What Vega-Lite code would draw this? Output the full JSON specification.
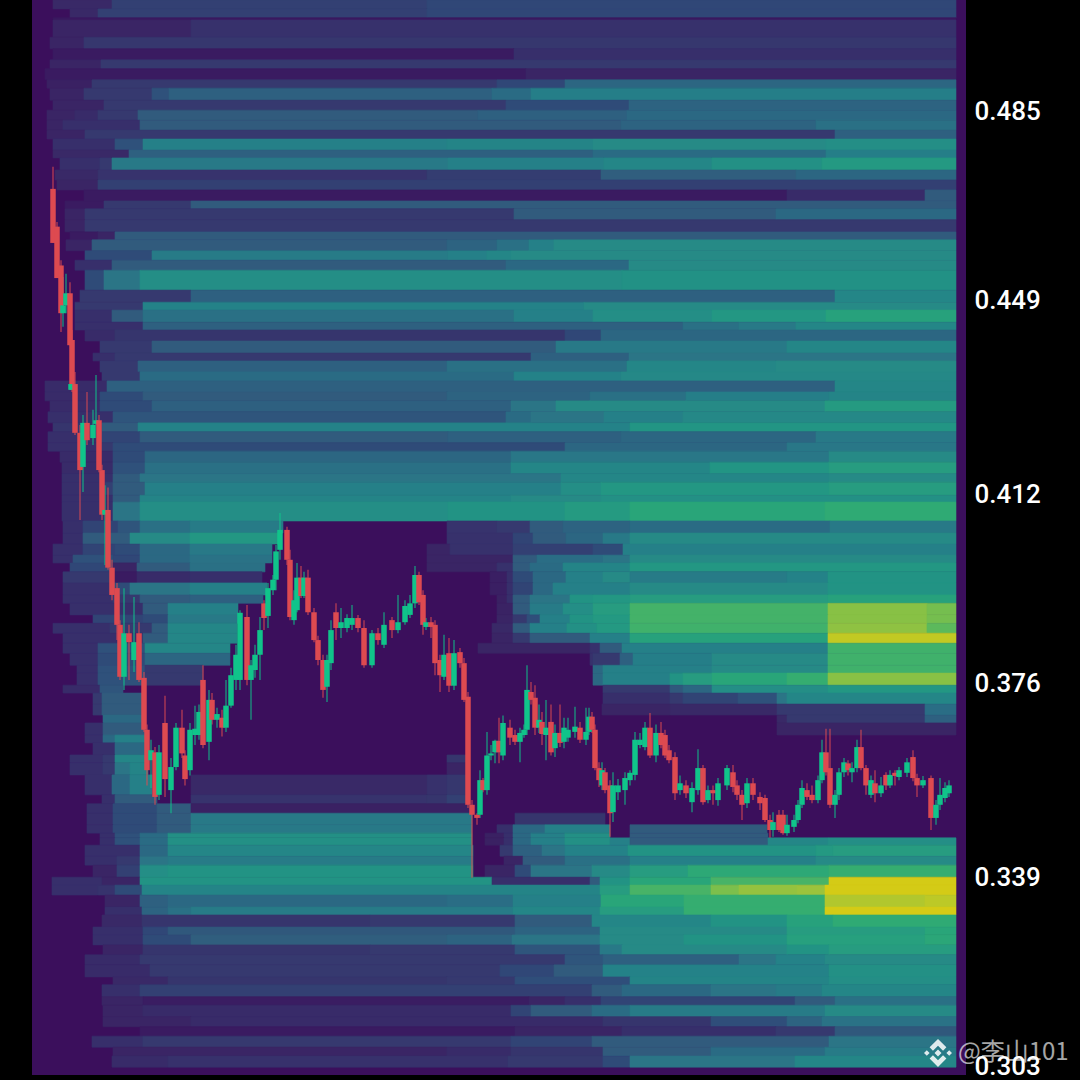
{"$schema":"https://vega.github.io/schema/vega-lite/v6.json","width":934,"height":1075,"autosize":"none","padding":{"left":32,"right":114,"top":0,"bottom":5},"background":"#000000","view":{"fill":"#3b0f5c","stroke":null},
"datasets":{
"bands":[{"b":1,"y":0.5063,"y2":0.5046},{"b":2,"y":0.5046,"y2":0.5029},{"b":3,"y":0.5029,"y2":0.5025},{"b":4,"y":0.5025,"y2":0.4992},{"b":5,"y":0.4992,"y2":0.4970},{"b":6,"y":0.4970,"y2":0.4949},{"b":7,"y":0.4949,"y2":0.4932},{"b":8,"y":0.4932,"y2":0.4911},{"b":9,"y":0.4911,"y2":0.4895},{"b":10,"y":0.4895,"y2":0.4872},{"b":11,"y":0.4872,"y2":0.4853},{"b":12,"y":0.4853,"y2":0.4834},{"b":13,"y":0.4834,"y2":0.4815},{"b":14,"y":0.4815,"y2":0.4798},{"b":15,"y":0.4798,"y2":0.4777},{"b":16,"y":0.4777,"y2":0.4762},{"b":17,"y":0.4762,"y2":0.4739},{"b":18,"y":0.4739,"y2":0.4720},{"b":19,"y":0.4720,"y2":0.4701},{"b":20,"y":0.4701,"y2":0.4680},{"b":21,"y":0.4680,"y2":0.4665},{"b":22,"y":0.4665,"y2":0.4644},{"b":23,"y":0.4644,"y2":0.4621},{"b":24,"y":0.4621,"y2":0.4606},{"b":25,"y":0.4606,"y2":0.4585},{"b":26,"y":0.4585,"y2":0.4567},{"b":27,"y":0.4567,"y2":0.4548},{"b":28,"y":0.4548,"y2":0.4510},{"b":29,"y":0.4510,"y2":0.4487},{"b":30,"y":0.4487,"y2":0.4472},{"b":31,"y":0.4472,"y2":0.4449},{"b":32,"y":0.4449,"y2":0.4434},{"b":33,"y":0.4434,"y2":0.4413},{"b":34,"y":0.4413,"y2":0.4390},{"b":35,"y":0.4390,"y2":0.4375},{"b":36,"y":0.4375,"y2":0.4354},{"b":37,"y":0.4354,"y2":0.4337},{"b":38,"y":0.4337,"y2":0.4316},{"b":39,"y":0.4316,"y2":0.4299},{"b":40,"y":0.4299,"y2":0.4278},{"b":41,"y":0.4278,"y2":0.4257},{"b":42,"y":0.4257,"y2":0.4240},{"b":43,"y":0.4240,"y2":0.4219},{"b":44,"y":0.4219,"y2":0.4203},{"b":45,"y":0.4203,"y2":0.4182},{"b":46,"y":0.4182,"y2":0.4160},{"b":47,"y":0.4160,"y2":0.4144},{"b":48,"y":0.4144,"y2":0.4119},{"b":49,"y":0.4119,"y2":0.4106},{"b":50,"y":0.4106,"y2":0.4070},{"b":51,"y":0.4070,"y2":0.4047},{"b":52,"y":0.4047,"y2":0.4026},{"b":53,"y":0.4026,"y2":0.4005},{"b":54,"y":0.4005,"y2":0.3990},{"b":55,"y":0.3990,"y2":0.3973},{"b":56,"y":0.3973,"y2":0.3952},{"b":57,"y":0.3952,"y2":0.3929},{"b":58,"y":0.3929,"y2":0.3913},{"b":59,"y":0.3913,"y2":0.3891},{"b":60,"y":0.3891,"y2":0.3875},{"b":61,"y":0.3875,"y2":0.3856},{"b":62,"y":0.3856,"y2":0.3837},{"b":63,"y":0.3837,"y2":0.3818},{"b":64,"y":0.3818,"y2":0.3795},{"b":65,"y":0.3795,"y2":0.3780},{"b":66,"y":0.3780,"y2":0.3757},{"b":67,"y":0.3757,"y2":0.3742},{"b":68,"y":0.3742,"y2":0.3721},{"b":69,"y":0.3721,"y2":0.3700},{"b":70,"y":0.3700,"y2":0.3685},{"b":71,"y":0.3685,"y2":0.3662},{"b":72,"y":0.3662,"y2":0.3647},{"b":73,"y":0.3647,"y2":0.3624},{"b":74,"y":0.3624,"y2":0.3609},{"b":75,"y":0.3609,"y2":0.3586},{"b":76,"y":0.3586,"y2":0.3548},{"b":77,"y":0.3548,"y2":0.3531},{"b":78,"y":0.3531,"y2":0.3513},{"b":104,"y":0.3513,"y2":0.3491},{"b":105,"y":0.3491,"y2":0.3475},{"b":80,"y":0.3475,"y2":0.3466},{"b":81,"y":0.3466,"y2":0.3452},{"b":82,"y":0.3452,"y2":0.3431},{"b":83,"y":0.3431,"y2":0.3414},{"b":84,"y":0.3414,"y2":0.3391},{"b":85,"y":0.3391,"y2":0.3376},{"b":86,"y":0.3376,"y2":0.3357},{"b":87,"y":0.3357,"y2":0.3334},{"b":88,"y":0.3334,"y2":0.3319},{"b":89,"y":0.3319,"y2":0.3296},{"b":90,"y":0.3296,"y2":0.3281},{"b":91,"y":0.3281,"y2":0.3262},{"b":92,"y":0.3262,"y2":0.3243},{"b":93,"y":0.3243,"y2":0.3224},{"b":94,"y":0.3224,"y2":0.3201},{"b":95,"y":0.3201,"y2":0.3186},{"b":96,"y":0.3186,"y2":0.3163},{"b":97,"y":0.3163,"y2":0.3147},{"b":98,"y":0.3147,"y2":0.3125},{"b":99,"y":0.3125,"y2":0.3106},{"b":100,"y":0.3106,"y2":0.3088},{"b":101,"y":0.3088,"y2":0.3067},{"b":102,"y":0.3067,"y2":0.3050},{"b":103,"y":0.3050,"y2":0.3029}],
"cells":[
{"b":1,"x":53,"e":112,"v":1.2},{"b":1,"x":112,"e":427,"v":2.2},{"b":1,"x":427,"e":956,"v":2.4},
{"b":2,"x":70,"e":98,"v":1.2},{"b":2,"x":98,"e":427,"v":2.2},{"b":2,"x":427,"e":956,"v":2.4},
{"b":3,"x":53,"e":956,"v":0.4},
{"b":4,"x":53,"e":191,"v":1},{"b":4,"x":191,"e":956,"v":1.6},
{"b":5,"x":50,"e":84,"v":1},{"b":5,"x":84,"e":956,"v":1.9},
{"b":6,"x":53,"e":514,"v":0.5},{"b":6,"x":514,"e":956,"v":1.5},
{"b":7,"x":50,"e":101,"v":1},{"b":7,"x":101,"e":956,"v":2},
{"b":8,"x":45,"e":526,"v":0.5},{"b":8,"x":526,"e":956,"v":1},
{"b":9,"x":47,"e":92,"v":0.8},{"b":9,"x":92,"e":497,"v":2},{"b":9,"x":497,"e":565,"v":2.4},{"b":9,"x":565,"e":956,"v":3.4},
{"b":10,"x":50,"e":84,"v":1},{"b":10,"x":84,"e":152,"v":2},{"b":10,"x":152,"e":169,"v":2.7},{"b":10,"x":169,"e":492,"v":3.2},{"b":10,"x":492,"e":531,"v":3.6},{"b":10,"x":531,"e":956,"v":4.4},
{"b":11,"x":53,"e":104,"v":1},{"b":11,"x":104,"e":506,"v":2},{"b":11,"x":506,"e":629,"v":2.5},{"b":11,"x":629,"e":956,"v":3.3},
{"b":12,"x":47,"e":75,"v":1},{"b":12,"x":75,"e":98,"v":1.3},{"b":12,"x":98,"e":138,"v":2},{"b":12,"x":138,"e":478,"v":3},{"b":12,"x":478,"e":627,"v":3.2},{"b":12,"x":627,"e":956,"v":3.5},
{"b":13,"x":47,"e":63,"v":1},{"b":13,"x":63,"e":140,"v":1.5},{"b":13,"x":140,"e":621,"v":3},{"b":13,"x":621,"e":816,"v":3.3},{"b":13,"x":816,"e":956,"v":3.8},
{"b":14,"x":47,"e":85,"v":1},{"b":14,"x":85,"e":835,"v":2},{"b":14,"x":835,"e":956,"v":3.2},
{"b":15,"x":53,"e":115,"v":1.5},{"b":15,"x":115,"e":143,"v":2.7},{"b":15,"x":143,"e":447,"v":4.5},{"b":15,"x":447,"e":593,"v":4.7},{"b":15,"x":593,"e":826,"v":5},{"b":15,"x":826,"e":956,"v":5.2},
{"b":16,"x":53,"e":129,"v":1.2},{"b":16,"x":129,"e":593,"v":3.2},{"b":16,"x":593,"e":826,"v":3.6},{"b":16,"x":826,"e":956,"v":4.4},
{"b":17,"x":60,"e":100,"v":1.5},{"b":17,"x":100,"e":112,"v":2},{"b":17,"x":112,"e":448,"v":4.2},{"b":17,"x":448,"e":604,"v":4.5},{"b":17,"x":604,"e":712,"v":4.8},{"b":17,"x":712,"e":822,"v":5.3},{"b":17,"x":822,"e":956,"v":5.8},
{"b":18,"x":55,"e":98,"v":1.2},{"b":18,"x":98,"e":427,"v":1.7},{"b":18,"x":427,"e":601,"v":2.1},{"b":18,"x":601,"e":796,"v":3.1},{"b":18,"x":796,"e":956,"v":3.4},
{"b":19,"x":57,"e":98,"v":1},{"b":19,"x":98,"e":956,"v":2.2},
{"b":20,"x":84,"e":787,"v":0.5},{"b":20,"x":787,"e":925,"v":1.3},{"b":20,"x":925,"e":956,"v":3},
{"b":21,"x":65,"e":104,"v":0.5},{"b":21,"x":104,"e":191,"v":2},{"b":21,"x":191,"e":956,"v":3},
{"b":22,"x":65,"e":85,"v":1},{"b":22,"x":85,"e":514,"v":2},{"b":22,"x":514,"e":776,"v":3},{"b":22,"x":776,"e":956,"v":3.5},
{"b":23,"x":65,"e":85,"v":1},{"b":23,"x":85,"e":956,"v":2},
{"b":24,"x":70,"e":98,"v":0.5},{"b":24,"x":98,"e":115,"v":1},{"b":24,"x":115,"e":956,"v":3},
{"b":25,"x":66,"e":92,"v":1},{"b":25,"x":92,"e":447,"v":3},{"b":25,"x":447,"e":497,"v":3.3},{"b":25,"x":497,"e":529,"v":3.8},{"b":25,"x":529,"e":554,"v":4.5},{"b":25,"x":554,"e":956,"v":5},
{"b":26,"x":85,"e":152,"v":2.5},{"b":26,"x":152,"e":448,"v":4.3},{"b":26,"x":448,"e":487,"v":4.5},{"b":26,"x":487,"e":511,"v":4.8},{"b":26,"x":511,"e":956,"v":5},
{"b":27,"x":75,"e":112,"v":1.5},{"b":27,"x":112,"e":506,"v":3},{"b":27,"x":506,"e":629,"v":3.5},{"b":27,"x":629,"e":956,"v":5},
{"b":28,"x":85,"e":104,"v":2.5},{"b":28,"x":104,"e":140,"v":4},{"b":28,"x":140,"e":622,"v":5.2},{"b":28,"x":622,"e":956,"v":5.4},
{"b":29,"x":80,"e":191,"v":2},{"b":29,"x":191,"e":835,"v":3.2},{"b":29,"x":835,"e":956,"v":4.8},
{"b":30,"x":75,"e":143,"v":2},{"b":30,"x":143,"e":584,"v":4.6},{"b":30,"x":584,"e":956,"v":5},
{"b":31,"x":75,"e":112,"v":1.5},{"b":31,"x":112,"e":143,"v":3},{"b":31,"x":143,"e":514,"v":3.8},{"b":31,"x":514,"e":593,"v":4.5},{"b":31,"x":593,"e":712,"v":5.2},{"b":31,"x":712,"e":826,"v":5.7},{"b":31,"x":826,"e":956,"v":6.3},
{"b":32,"x":75,"e":143,"v":1.5},{"b":32,"x":143,"e":683,"v":3.2},{"b":32,"x":683,"e":739,"v":3.8},{"b":32,"x":739,"e":796,"v":4.2},{"b":32,"x":796,"e":956,"v":4.8},
{"b":33,"x":85,"e":115,"v":1.3},{"b":33,"x":115,"e":565,"v":1.8},{"b":33,"x":565,"e":601,"v":2.4},{"b":33,"x":601,"e":956,"v":3.4},
{"b":34,"x":100,"e":152,"v":2},{"b":34,"x":152,"e":556,"v":3},{"b":34,"x":556,"e":787,"v":4.2},{"b":34,"x":787,"e":956,"v":4.8},
{"b":35,"x":93,"e":115,"v":1.5},{"b":35,"x":115,"e":531,"v":2},{"b":35,"x":531,"e":629,"v":3.2},{"b":35,"x":629,"e":956,"v":4},
{"b":36,"x":100,"e":138,"v":2},{"b":36,"x":138,"e":447,"v":3.2},{"b":36,"x":447,"e":627,"v":3.8},{"b":36,"x":627,"e":776,"v":4.8},{"b":36,"x":776,"e":956,"v":5},
{"b":37,"x":102,"e":140,"v":2},{"b":37,"x":140,"e":514,"v":3.6},{"b":37,"x":514,"e":621,"v":4.6},{"b":37,"x":621,"e":956,"v":4.9},
{"b":38,"x":45,"e":107,"v":1.3},{"b":38,"x":107,"e":835,"v":3.2},{"b":38,"x":835,"e":956,"v":4.8},
{"b":39,"x":45,"e":100,"v":1.3},{"b":39,"x":100,"e":143,"v":2.5},{"b":39,"x":143,"e":447,"v":3},{"b":39,"x":447,"e":590,"v":3.3},{"b":39,"x":590,"e":686,"v":3.8},{"b":39,"x":686,"e":829,"v":4.4},{"b":39,"x":829,"e":956,"v":4.7},
{"b":40,"x":50,"e":100,"v":1.3},{"b":40,"x":100,"e":152,"v":2.5},{"b":40,"x":152,"e":511,"v":3.2},{"b":40,"x":511,"e":556,"v":4},{"b":40,"x":556,"e":825,"v":5},{"b":40,"x":825,"e":956,"v":5.9},
{"b":41,"x":48,"e":113,"v":1.5},{"b":41,"x":113,"e":506,"v":2.8},{"b":41,"x":506,"e":531,"v":3.6},{"b":41,"x":531,"e":604,"v":4},{"b":41,"x":604,"e":683,"v":4.5},{"b":41,"x":683,"e":956,"v":4.9},
{"b":42,"x":53,"e":102,"v":1.8},{"b":42,"x":102,"e":138,"v":3},{"b":42,"x":138,"e":630,"v":4.6},{"b":42,"x":630,"e":956,"v":5.6},
{"b":43,"x":48,"e":100,"v":1.5},{"b":43,"x":100,"e":140,"v":2.3},{"b":43,"x":140,"e":448,"v":3},{"b":43,"x":448,"e":621,"v":3.2},{"b":43,"x":621,"e":816,"v":3.4},{"b":43,"x":816,"e":956,"v":4.2},
{"b":44,"x":48,"e":100,"v":1.5},{"b":44,"x":100,"e":113,"v":2},{"b":44,"x":113,"e":565,"v":2.5},{"b":44,"x":565,"e":787,"v":3.4},{"b":44,"x":787,"e":956,"v":4.1},
{"b":45,"x":60,"e":113,"v":1.3},{"b":45,"x":113,"e":145,"v":2.5},{"b":45,"x":145,"e":511,"v":3.4},{"b":45,"x":511,"e":829,"v":4.1},{"b":45,"x":829,"e":956,"v":5},
{"b":46,"x":62,"e":113,"v":1.3},{"b":46,"x":113,"e":145,"v":2.7},{"b":46,"x":145,"e":511,"v":3.8},{"b":46,"x":511,"e":710,"v":4.8},{"b":46,"x":710,"e":829,"v":5.6},{"b":46,"x":829,"e":956,"v":6},
{"b":47,"x":62,"e":113,"v":1.5},{"b":47,"x":113,"e":140,"v":3},{"b":47,"x":140,"e":561,"v":4},{"b":47,"x":561,"e":829,"v":4.8},{"b":47,"x":829,"e":956,"v":5},
{"b":48,"x":62,"e":105,"v":1.5},{"b":48,"x":105,"e":113,"v":2.2},{"b":48,"x":113,"e":145,"v":3},{"b":48,"x":145,"e":561,"v":4.5},{"b":48,"x":561,"e":601,"v":5.2},{"b":48,"x":601,"e":829,"v":5.7},{"b":48,"x":829,"e":956,"v":6},
{"b":49,"x":62,"e":113,"v":1.5},{"b":49,"x":113,"e":140,"v":3},{"b":49,"x":140,"e":511,"v":4.7},{"b":49,"x":511,"e":601,"v":5},{"b":49,"x":601,"e":956,"v":5.3},
{"b":50,"x":62,"e":113,"v":1.5},{"b":50,"x":113,"e":140,"v":4},{"b":50,"x":140,"e":448,"v":5.2},{"b":50,"x":448,"e":565,"v":5.5},{"b":50,"x":565,"e":630,"v":5.9},{"b":50,"x":630,"e":825,"v":6.5},{"b":50,"x":825,"e":956,"v":6.8},
{"b":51,"x":63,"e":83,"v":1.5},{"b":51,"x":83,"e":118,"v":2.3},{"b":51,"x":118,"e":140,"v":2.8},{"b":51,"x":140,"e":190,"v":3.8},{"b":51,"x":190,"e":283,"v":4.3},{"b":51,"x":447,"e":497,"v":1.7},{"b":51,"x":497,"e":530,"v":2},{"b":51,"x":530,"e":563,"v":3},{"b":51,"x":563,"e":630,"v":3.3},{"b":51,"x":630,"e":830,"v":3.6},{"b":51,"x":830,"e":956,"v":4.2},
{"b":52,"x":63,"e":83,"v":1.5},{"b":52,"x":83,"e":130,"v":3},{"b":52,"x":130,"e":190,"v":5},{"b":52,"x":190,"e":278,"v":5.7},{"b":52,"x":447,"e":513,"v":1.6},{"b":52,"x":513,"e":533,"v":2.3},{"b":52,"x":533,"e":566,"v":3},{"b":52,"x":566,"e":603,"v":3.4},{"b":52,"x":603,"e":630,"v":4.2},{"b":52,"x":630,"e":956,"v":5},
{"b":53,"x":53,"e":83,"v":1.5},{"b":53,"x":83,"e":115,"v":2.3},{"b":53,"x":115,"e":140,"v":2.5},{"b":53,"x":140,"e":190,"v":3.5},{"b":53,"x":190,"e":272,"v":4.2},{"b":53,"x":427,"e":450,"v":1},{"b":53,"x":450,"e":513,"v":1.6},{"b":53,"x":513,"e":593,"v":2.2},{"b":53,"x":593,"e":623,"v":2.5},{"b":53,"x":623,"e":956,"v":4.5},
{"b":54,"x":53,"e":73,"v":1.5},{"b":54,"x":73,"e":113,"v":2.7},{"b":54,"x":113,"e":140,"v":2.4},{"b":54,"x":140,"e":190,"v":3.5},{"b":54,"x":190,"e":272,"v":3.9},{"b":54,"x":427,"e":513,"v":1},{"b":54,"x":513,"e":537,"v":3},{"b":54,"x":537,"e":603,"v":3.7},{"b":54,"x":603,"e":630,"v":4},{"b":54,"x":630,"e":956,"v":5},
{"b":55,"x":70,"e":113,"v":2.4},{"b":55,"x":113,"e":137,"v":1},{"b":55,"x":137,"e":190,"v":3},{"b":55,"x":190,"e":265,"v":3.8},{"b":55,"x":427,"e":497,"v":1},{"b":55,"x":497,"e":513,"v":1.6},{"b":55,"x":513,"e":530,"v":3},{"b":55,"x":530,"e":563,"v":3.6},{"b":55,"x":563,"e":630,"v":4.7},{"b":55,"x":630,"e":956,"v":5.7},
{"b":56,"x":63,"e":113,"v":2},{"b":56,"x":113,"e":137,"v":0.5},{"b":56,"x":137,"e":190,"v":1.3},{"b":56,"x":190,"e":262,"v":1.5},{"b":56,"x":490,"e":507,"v":0.7},{"b":56,"x":507,"e":513,"v":1.5},{"b":56,"x":513,"e":533,"v":2.5},{"b":56,"x":533,"e":566,"v":3.5},{"b":56,"x":566,"e":603,"v":4.5},{"b":56,"x":603,"e":630,"v":5},{"b":56,"x":630,"e":787,"v":4.3},{"b":56,"x":787,"e":828,"v":4.6},{"b":56,"x":828,"e":956,"v":5.5},
{"b":57,"x":63,"e":113,"v":1.5},{"b":57,"x":113,"e":130,"v":2.5},{"b":57,"x":130,"e":190,"v":4},{"b":57,"x":190,"e":267,"v":4.5},{"b":57,"x":490,"e":507,"v":0.7},{"b":57,"x":507,"e":513,"v":1.5},{"b":57,"x":513,"e":533,"v":2.3},{"b":57,"x":533,"e":553,"v":3.5},{"b":57,"x":553,"e":630,"v":4.5},{"b":57,"x":630,"e":828,"v":5},{"b":57,"x":828,"e":956,"v":5.5},
{"b":58,"x":63,"e":113,"v":1.5},{"b":58,"x":113,"e":140,"v":2},{"b":58,"x":140,"e":190,"v":3},{"b":58,"x":190,"e":263,"v":3.2},{"b":58,"x":497,"e":507,"v":0.8},{"b":58,"x":507,"e":513,"v":1.5},{"b":58,"x":513,"e":530,"v":3},{"b":58,"x":530,"e":570,"v":4},{"b":58,"x":570,"e":593,"v":5.5},{"b":58,"x":593,"e":630,"v":5.7},{"b":58,"x":630,"e":828,"v":6},{"b":58,"x":828,"e":956,"v":6.3},
{"b":59,"x":70,"e":143,"v":1.5},{"b":59,"x":143,"e":168,"v":3},{"b":59,"x":168,"e":238,"v":4.5},{"b":59,"x":497,"e":513,"v":0.9},{"b":59,"x":513,"e":530,"v":3},{"b":59,"x":530,"e":563,"v":4.3},{"b":59,"x":563,"e":593,"v":5.2},{"b":59,"x":593,"e":630,"v":6},{"b":59,"x":630,"e":828,"v":7.4},{"b":59,"x":828,"e":927,"v":8.7},{"b":59,"x":927,"e":956,"v":8.4},
{"b":60,"x":93,"e":143,"v":2.3},{"b":60,"x":143,"e":168,"v":2.5},{"b":60,"x":168,"e":238,"v":4.2},{"b":60,"x":497,"e":513,"v":1},{"b":60,"x":513,"e":527,"v":2},{"b":60,"x":527,"e":540,"v":2.6},{"b":60,"x":540,"e":570,"v":4.5},{"b":60,"x":570,"e":593,"v":5.5},{"b":60,"x":593,"e":630,"v":5.8},{"b":60,"x":630,"e":828,"v":7.4},{"b":60,"x":828,"e":927,"v":8.7},{"b":60,"x":927,"e":956,"v":8.4},
{"b":61,"x":53,"e":110,"v":1.5},{"b":61,"x":110,"e":152,"v":2},{"b":61,"x":152,"e":168,"v":3},{"b":61,"x":168,"e":237,"v":4.8},{"b":61,"x":492,"e":513,"v":1.2},{"b":61,"x":513,"e":530,"v":3},{"b":61,"x":530,"e":567,"v":4.5},{"b":61,"x":567,"e":597,"v":5.3},{"b":61,"x":597,"e":630,"v":5.8},{"b":61,"x":630,"e":828,"v":7.3},{"b":61,"x":828,"e":927,"v":8.8},{"b":61,"x":927,"e":956,"v":8},
{"b":62,"x":63,"e":143,"v":1.5},{"b":62,"x":143,"e":168,"v":3},{"b":62,"x":168,"e":237,"v":4.8},{"b":62,"x":492,"e":513,"v":1},{"b":62,"x":513,"e":530,"v":2},{"b":62,"x":530,"e":590,"v":3},{"b":62,"x":590,"e":630,"v":4.5},{"b":62,"x":630,"e":828,"v":6.3},{"b":62,"x":828,"e":956,"v":9.7},
{"b":63,"x":63,"e":98,"v":1.5},{"b":63,"x":98,"e":145,"v":2.7},{"b":63,"x":145,"e":230,"v":4.8},{"b":63,"x":478,"e":590,"v":1},{"b":63,"x":590,"e":600,"v":1.6},{"b":63,"x":600,"e":622,"v":3},{"b":63,"x":622,"e":828,"v":4.5},{"b":63,"x":828,"e":956,"v":7.3},
{"b":64,"x":70,"e":98,"v":1.5},{"b":64,"x":98,"e":145,"v":2.5},{"b":64,"x":145,"e":230,"v":3.4},{"b":64,"x":590,"e":593,"v":1.6},{"b":64,"x":593,"e":620,"v":2},{"b":64,"x":620,"e":633,"v":3.2},{"b":64,"x":633,"e":712,"v":4.4},{"b":64,"x":712,"e":828,"v":5},{"b":64,"x":828,"e":956,"v":7.3},
{"b":65,"x":77,"e":98,"v":1.5},{"b":65,"x":98,"e":145,"v":2.7},{"b":65,"x":145,"e":203,"v":2},{"b":65,"x":593,"e":603,"v":3.5},{"b":65,"x":603,"e":712,"v":4.5},{"b":65,"x":712,"e":828,"v":5},{"b":65,"x":828,"e":956,"v":7.3},
{"b":66,"x":77,"e":98,"v":1.5},{"b":66,"x":98,"e":145,"v":2.7},{"b":66,"x":145,"e":203,"v":2},{"b":66,"x":593,"e":603,"v":3.5},{"b":66,"x":603,"e":670,"v":4.5},{"b":66,"x":670,"e":683,"v":5.5},{"b":66,"x":683,"e":712,"v":6},{"b":66,"x":712,"e":787,"v":6.5},{"b":66,"x":787,"e":828,"v":7},{"b":66,"x":828,"e":956,"v":8.7},
{"b":67,"x":63,"e":100,"v":1.3},{"b":67,"x":100,"e":123,"v":2.8},{"b":67,"x":603,"e":670,"v":2},{"b":67,"x":670,"e":683,"v":2.9},{"b":67,"x":683,"e":712,"v":3.4},{"b":67,"x":712,"e":828,"v":5.2},{"b":67,"x":828,"e":956,"v":5.7},
{"b":68,"x":93,"e":102,"v":2},{"b":68,"x":102,"e":143,"v":3},{"b":68,"x":603,"e":670,"v":1.5},{"b":68,"x":670,"e":683,"v":2},{"b":68,"x":683,"e":738,"v":2.3},{"b":68,"x":738,"e":777,"v":2.7},{"b":68,"x":777,"e":787,"v":4},{"b":68,"x":787,"e":956,"v":4.8},
{"b":69,"x":93,"e":102,"v":2},{"b":69,"x":102,"e":143,"v":3},{"b":69,"x":602,"e":670,"v":1},{"b":69,"x":670,"e":777,"v":1.2},{"b":69,"x":777,"e":925,"v":2},{"b":69,"x":925,"e":956,"v":3.7},
{"b":70,"x":103,"e":143,"v":3.5},{"b":70,"x":777,"e":787,"v":1.2},{"b":70,"x":787,"e":925,"v":2},{"b":70,"x":925,"e":956,"v":3.2},
{"b":71,"x":85,"e":103,"v":1.5},{"b":71,"x":103,"e":145,"v":3},{"b":71,"x":777,"e":956,"v":1},
{"b":72,"x":85,"e":103,"v":1.5},{"b":72,"x":103,"e":115,"v":3.5},{"b":72,"x":115,"e":145,"v":4.5},
{"b":73,"x":93,"e":115,"v":1.5},{"b":73,"x":115,"e":147,"v":3.5},
{"b":74,"x":70,"e":103,"v":1.5},{"b":74,"x":103,"e":115,"v":2},{"b":74,"x":115,"e":147,"v":4.8},{"b":74,"x":447,"e":468,"v":1.8},
{"b":75,"x":70,"e":103,"v":1.5},{"b":75,"x":103,"e":115,"v":2},{"b":75,"x":115,"e":130,"v":4},{"b":75,"x":130,"e":148,"v":4.7},{"b":75,"x":447,"e":468,"v":1},
{"b":76,"x":85,"e":112,"v":1.5},{"b":76,"x":112,"e":130,"v":3.5},{"b":76,"x":130,"e":152,"v":4.5},{"b":76,"x":191,"e":427,"v":1.2},{"b":76,"x":427,"e":447,"v":1.6},{"b":76,"x":447,"e":468,"v":1.9},
{"b":77,"x":102,"e":115,"v":1.5},{"b":77,"x":115,"e":157,"v":3},{"b":77,"x":191,"e":427,"v":1.7},{"b":77,"x":427,"e":447,"v":1.8},{"b":77,"x":447,"e":468,"v":2.2},
{"b":78,"x":87,"e":113,"v":1.5},{"b":78,"x":113,"e":157,"v":2.5},{"b":78,"x":157,"e":191,"v":3},{"b":78,"x":191,"e":470,"v":0.8},
{"b":104,"x":87,"e":113,"v":1.5},{"b":104,"x":113,"e":157,"v":2.5},{"b":104,"x":157,"e":191,"v":3},{"b":104,"x":191,"e":472,"v":4.2},{"b":104,"x":515,"e":605,"v":1.8},
{"b":105,"x":87,"e":113,"v":1.5},{"b":105,"x":113,"e":157,"v":2.5},{"b":105,"x":157,"e":191,"v":3},{"b":105,"x":191,"e":472,"v":4.2},{"b":105,"x":497,"e":513,"v":1.5},{"b":105,"x":513,"e":545,"v":3.5},{"b":105,"x":545,"e":610,"v":4.5},{"b":105,"x":630,"e":767,"v":3},
{"b":80,"x":100,"e":115,"v":1.5},{"b":80,"x":115,"e":140,"v":2.7},{"b":80,"x":140,"e":168,"v":3.6},{"b":80,"x":168,"e":472,"v":5.3},{"b":80,"x":485,"e":504,"v":0.8},{"b":80,"x":504,"e":513,"v":1.5},{"b":80,"x":513,"e":531,"v":3.5},{"b":80,"x":531,"e":565,"v":4.5},{"b":80,"x":565,"e":610,"v":5.3},{"b":80,"x":630,"e":768,"v":3},
{"b":81,"x":100,"e":115,"v":1.5},{"b":81,"x":115,"e":140,"v":2.7},{"b":81,"x":140,"e":168,"v":3.6},{"b":81,"x":168,"e":472,"v":5.3},{"b":81,"x":485,"e":504,"v":0.8},{"b":81,"x":504,"e":513,"v":1.5},{"b":81,"x":513,"e":531,"v":3.5},{"b":81,"x":531,"e":565,"v":4.5},{"b":81,"x":565,"e":610,"v":5.3},{"b":81,"x":610,"e":630,"v":4.5},{"b":81,"x":630,"e":768,"v":3},{"b":81,"x":768,"e":828,"v":4.8},{"b":81,"x":828,"e":956,"v":5.2},
{"b":82,"x":85,"e":140,"v":1.5},{"b":82,"x":140,"e":168,"v":3.5},{"b":82,"x":168,"e":473,"v":4.8},{"b":82,"x":500,"e":513,"v":2},{"b":82,"x":513,"e":542,"v":3.2},{"b":82,"x":542,"e":565,"v":4},{"b":82,"x":565,"e":628,"v":4.6},{"b":82,"x":628,"e":816,"v":5.5},{"b":82,"x":816,"e":833,"v":5.8},{"b":82,"x":833,"e":956,"v":6},
{"b":83,"x":85,"e":117,"v":1.5},{"b":83,"x":117,"e":140,"v":2},{"b":83,"x":140,"e":168,"v":4},{"b":83,"x":168,"e":473,"v":4.3},{"b":83,"x":504,"e":523,"v":1},{"b":83,"x":523,"e":565,"v":3},{"b":83,"x":565,"e":630,"v":3.8},{"b":83,"x":630,"e":816,"v":4.5},{"b":83,"x":816,"e":956,"v":5},
{"b":84,"x":93,"e":117,"v":1},{"b":84,"x":117,"e":140,"v":2.2},{"b":84,"x":140,"e":168,"v":5.2},{"b":84,"x":168,"e":473,"v":5.5},{"b":84,"x":485,"e":515,"v":1},{"b":84,"x":515,"e":531,"v":2.5},{"b":84,"x":531,"e":592,"v":4},{"b":84,"x":592,"e":630,"v":5},{"b":84,"x":630,"e":688,"v":6},{"b":84,"x":688,"e":829,"v":6.7},{"b":84,"x":829,"e":956,"v":7},
{"b":85,"x":52,"e":102,"v":1.5},{"b":85,"x":102,"e":140,"v":1},{"b":85,"x":140,"e":492,"v":5.5},{"b":85,"x":492,"e":590,"v":1.5},{"b":85,"x":590,"e":600,"v":3},{"b":85,"x":600,"e":630,"v":5.5},{"b":85,"x":630,"e":711,"v":6.5},{"b":85,"x":711,"e":829,"v":7.5},{"b":85,"x":829,"e":956,"v":10},
{"b":86,"x":52,"e":98,"v":1.5},{"b":86,"x":98,"e":115,"v":1.7},{"b":86,"x":115,"e":142,"v":2.5},{"b":86,"x":142,"e":600,"v":4.7},{"b":86,"x":600,"e":630,"v":6},{"b":86,"x":630,"e":711,"v":7.5},{"b":86,"x":711,"e":739,"v":8.5},{"b":86,"x":739,"e":797,"v":8.9},{"b":86,"x":797,"e":825,"v":9},{"b":86,"x":825,"e":956,"v":10},
{"b":87,"x":105,"e":140,"v":1},{"b":87,"x":140,"e":168,"v":3.2},{"b":87,"x":168,"e":447,"v":3.5},{"b":87,"x":447,"e":513,"v":3.7},{"b":87,"x":513,"e":601,"v":4.5},{"b":87,"x":601,"e":684,"v":6.5},{"b":87,"x":684,"e":825,"v":7},{"b":87,"x":825,"e":925,"v":9.4},{"b":87,"x":925,"e":956,"v":9.6},
{"b":88,"x":105,"e":142,"v":1.5},{"b":88,"x":142,"e":168,"v":3.3},{"b":88,"x":168,"e":191,"v":3.8},{"b":88,"x":191,"e":513,"v":4.3},{"b":88,"x":513,"e":600,"v":4.8},{"b":88,"x":600,"e":684,"v":6},{"b":88,"x":684,"e":825,"v":7},{"b":88,"x":825,"e":956,"v":10},
{"b":89,"x":102,"e":142,"v":1.2},{"b":89,"x":142,"e":370,"v":1.8},{"b":89,"x":370,"e":515,"v":2},{"b":89,"x":515,"e":592,"v":3},{"b":89,"x":592,"e":711,"v":4.8},{"b":89,"x":711,"e":787,"v":5.5},{"b":89,"x":787,"e":833,"v":6.3},{"b":89,"x":833,"e":956,"v":6.8},
{"b":90,"x":93,"e":143,"v":1.5},{"b":90,"x":143,"e":168,"v":2.4},{"b":90,"x":168,"e":515,"v":2.9},{"b":90,"x":515,"e":600,"v":3.3},{"b":90,"x":600,"e":787,"v":5},{"b":90,"x":787,"e":925,"v":6},{"b":90,"x":925,"e":956,"v":6.5},
{"b":91,"x":93,"e":143,"v":1.5},{"b":91,"x":143,"e":191,"v":2.5},{"b":91,"x":191,"e":447,"v":3.1},{"b":91,"x":447,"e":512,"v":3.3},{"b":91,"x":512,"e":600,"v":4},{"b":91,"x":600,"e":684,"v":5},{"b":91,"x":684,"e":787,"v":5.5},{"b":91,"x":787,"e":925,"v":6.2},{"b":91,"x":925,"e":956,"v":6.6},
{"b":92,"x":103,"e":143,"v":1},{"b":92,"x":143,"e":370,"v":1.8},{"b":92,"x":370,"e":515,"v":2},{"b":92,"x":515,"e":600,"v":2.8},{"b":92,"x":600,"e":622,"v":4.2},{"b":92,"x":622,"e":787,"v":5},{"b":92,"x":787,"e":829,"v":5.5},{"b":92,"x":829,"e":956,"v":6},
{"b":93,"x":85,"e":140,"v":1.3},{"b":93,"x":140,"e":565,"v":2},{"b":93,"x":565,"e":603,"v":2.8},{"b":93,"x":603,"e":739,"v":3.2},{"b":93,"x":739,"e":776,"v":4},{"b":93,"x":776,"e":825,"v":4.6},{"b":93,"x":825,"e":956,"v":5},
{"b":94,"x":85,"e":150,"v":1.3},{"b":94,"x":150,"e":500,"v":2},{"b":94,"x":500,"e":554,"v":2.4},{"b":94,"x":554,"e":603,"v":3},{"b":94,"x":603,"e":829,"v":4.6},{"b":94,"x":829,"e":956,"v":5.3},
{"b":95,"x":113,"e":168,"v":1.2},{"b":95,"x":168,"e":447,"v":1.8},{"b":95,"x":447,"e":515,"v":2},{"b":95,"x":515,"e":630,"v":2.6},{"b":95,"x":630,"e":829,"v":4.7},{"b":95,"x":829,"e":956,"v":5.2},
{"b":96,"x":102,"e":140,"v":1.5},{"b":96,"x":140,"e":592,"v":2.2},{"b":96,"x":592,"e":622,"v":3},{"b":96,"x":622,"e":711,"v":3.5},{"b":96,"x":711,"e":776,"v":4},{"b":96,"x":776,"e":822,"v":4.3},{"b":96,"x":822,"e":956,"v":4.8},
{"b":97,"x":102,"e":143,"v":1},{"b":97,"x":143,"e":529,"v":0.6},{"b":97,"x":529,"e":565,"v":1},{"b":97,"x":565,"e":601,"v":1.5},{"b":97,"x":601,"e":795,"v":2.3},{"b":97,"x":795,"e":835,"v":3},{"b":97,"x":835,"e":956,"v":3.8},
{"b":98,"x":103,"e":143,"v":1},{"b":98,"x":143,"e":511,"v":1.3},{"b":98,"x":511,"e":531,"v":2.3},{"b":98,"x":531,"e":592,"v":3},{"b":98,"x":592,"e":630,"v":3.6},{"b":98,"x":630,"e":825,"v":4.3},{"b":98,"x":825,"e":956,"v":5},
{"b":99,"x":103,"e":191,"v":1},{"b":99,"x":191,"e":603,"v":1.3},{"b":99,"x":603,"e":711,"v":1.8},{"b":99,"x":711,"e":787,"v":2.6},{"b":99,"x":787,"e":822,"v":3.3},{"b":99,"x":822,"e":956,"v":3.9},
{"b":100,"x":140,"e":515,"v":0.5},{"b":100,"x":515,"e":622,"v":1},{"b":100,"x":622,"e":776,"v":1.5},{"b":100,"x":776,"e":835,"v":2},{"b":100,"x":835,"e":956,"v":2.9},
{"b":101,"x":92,"e":143,"v":1.5},{"b":101,"x":143,"e":511,"v":2},{"b":101,"x":511,"e":592,"v":2.3},{"b":101,"x":592,"e":829,"v":3},{"b":101,"x":829,"e":956,"v":4},
{"b":102,"x":113,"e":447,"v":1},{"b":102,"x":447,"e":511,"v":1.3},{"b":102,"x":511,"e":603,"v":1.8},{"b":102,"x":603,"e":711,"v":3},{"b":102,"x":711,"e":825,"v":3.6},{"b":102,"x":825,"e":956,"v":4.3},
{"b":103,"x":112,"e":168,"v":1.3},{"b":103,"x":168,"e":508,"v":1.6},{"b":103,"x":508,"e":603,"v":2},{"b":103,"x":603,"e":630,"v":2.5},{"b":103,"x":630,"e":795,"v":4},{"b":103,"x":795,"e":956,"v":4.8}
],
"candles":[
{"t":53,"o":0.4703,"c":0.4600,"h":0.4745,"l":0.4600,"d":"r"},{"t":57,"o":0.4631,"c":0.4533,"h":0.4640,"l":0.4533,"d":"r"},{"t":61,"o":0.4557,"c":0.4466,"h":0.4567,"l":0.4430,"d":"r"},{"t":63,"o":0.4466,"c":0.4481,"h":0.4535,"l":0.4440,"d":"g"},{"t":66,"o":0.4481,"c":0.4504,"h":0.4541,"l":0.4466,"d":"g"},{"t":70,"o":0.4504,"c":0.4405,"h":0.4525,"l":0.4405,"d":"r"},{"t":72,"o":0.4415,"c":0.4320,"h":0.4434,"l":0.4316,"d":"r"},{"t":71,"o":0.4320,"c":0.4331,"h":0.4434,"l":0.4320,"d":"g"},{"t":75,"o":0.4331,"c":0.4238,"h":0.4354,"l":0.4234,"d":"r"},{"t":80,"o":0.4238,"c":0.4167,"h":0.4253,"l":0.4072,"d":"r"},{"t":83,"o":0.4173,"c":0.4257,"h":0.4272,"l":0.4125,"d":"g"},{"t":87,"o":0.4257,"c":0.4224,"h":0.4316,"l":0.4215,"d":"r"},{"t":93,"o":0.4228,"c":0.4253,"h":0.4282,"l":0.4215,"d":"g"},{"t":96,"o":0.4255,"c":0.4262,"h":0.4348,"l":0.4253,"d":"g"},{"t":99,"o":0.4262,"c":0.4167,"h":0.4272,"l":0.4163,"d":"r"},{"t":102,"o":0.4167,"c":0.4082,"h":0.4177,"l":0.4072,"d":"r"},{"t":105,"o":0.4082,"c":0.4091,"h":0.4138,"l":0.3986,"d":"g"},{"t":108,"o":0.4091,"c":0.3981,"h":0.4134,"l":0.3977,"d":"r"},{"t":112,"o":0.3981,"c":0.3929,"h":0.3996,"l":0.3919,"d":"r"},{"t":117,"o":0.3942,"c":0.3872,"h":0.3952,"l":0.3843,"d":"r"},{"t":120,"o":0.3872,"c":0.3773,"h":0.3881,"l":0.3767,"d":"r"},{"t":124,"o":0.3773,"c":0.3856,"h":0.3942,"l":0.3748,"d":"g"},{"t":129,"o":0.3856,"c":0.3839,"h":0.3872,"l":0.3767,"d":"r"},{"t":134,"o":0.3805,"c":0.3839,"h":0.3925,"l":0.3782,"d":"g"},{"t":139,"o":0.3856,"c":0.3767,"h":0.3877,"l":0.3763,"d":"r"},{"t":144,"o":0.3771,"c":0.3672,"h":0.3782,"l":0.3668,"d":"r"},{"t":147,"o":0.3672,"c":0.3595,"h":0.3682,"l":0.3566,"d":"r"},{"t":151,"o":0.3614,"c":0.3633,"h":0.3653,"l":0.3561,"d":"g"},{"t":155,"o":0.3629,"c":0.3544,"h":0.3639,"l":0.3529,"d":"r"},{"t":159,"o":0.3548,"c":0.3629,"h":0.3643,"l":0.3538,"d":"g"},{"t":165,"o":0.3685,"c":0.3578,"h":0.3737,"l":0.3544,"d":"r"},{"t":171,"o":0.3557,"c":0.3601,"h":0.3618,"l":0.3513,"d":"g"},{"t":176,"o":0.3601,"c":0.3676,"h":0.3685,"l":0.3595,"d":"g"},{"t":182,"o":0.3676,"c":0.3627,"h":0.3710,"l":0.3618,"d":"r"},{"t":185,"o":0.3623,"c":0.3578,"h":0.3633,"l":0.3566,"d":"r"},{"t":190,"o":0.3595,"c":0.3672,"h":0.3685,"l":0.3585,"d":"g"},{"t":195,"o":0.3662,"c":0.3674,"h":0.3718,"l":0.3643,"d":"g"},{"t":199,"o":0.3662,"c":0.3706,"h":0.3720,"l":0.3653,"d":"g"},{"t":203,"o":0.3767,"c":0.3643,"h":0.3795,"l":0.3637,"d":"r"},{"t":209,"o":0.3649,"c":0.3729,"h":0.3748,"l":0.3614,"d":"g"},{"t":212,"o":0.3729,"c":0.3691,"h":0.3742,"l":0.3682,"d":"r"},{"t":217,"o":0.3691,"c":0.3702,"h":0.3714,"l":0.3676,"d":"g"},{"t":222,"o":0.3695,"c":0.3676,"h":0.3710,"l":0.3659,"d":"r"},{"t":226,"o":0.3676,"c":0.3718,"h":0.3767,"l":0.3668,"d":"g"},{"t":231,"o":0.3718,"c":0.3776,"h":0.3790,"l":0.3714,"d":"g"},{"t":236,"o":0.3767,"c":0.3815,"h":0.3834,"l":0.3748,"d":"g"},{"t":240,"o":0.3767,"c":0.3895,"h":0.3900,"l":0.3748,"d":"g"},{"t":247,"o":0.3887,"c":0.3767,"h":0.3910,"l":0.3757,"d":"r"},{"t":251,"o":0.3767,"c":0.3795,"h":0.3805,"l":0.3691,"d":"g"},{"t":255,"o":0.3786,"c":0.3815,"h":0.3834,"l":0.3771,"d":"g"},{"t":260,"o":0.3815,"c":0.3862,"h":0.3887,"l":0.3767,"d":"g"},{"t":264,"o":0.3913,"c":0.3885,"h":0.3919,"l":0.3862,"d":"r"},{"t":268,"o":0.3889,"c":0.3942,"h":0.3952,"l":0.3866,"d":"g"},{"t":273,"o":0.3938,"c":0.3958,"h":0.3967,"l":0.3929,"d":"g"},{"t":276,"o":0.3958,"c":0.4012,"h":0.4024,"l":0.3938,"d":"g"},{"t":280,"o":0.4015,"c":0.4053,"h":0.4085,"l":0.3996,"d":"g"},{"t":287,"o":0.4053,"c":0.3996,"h":0.4059,"l":0.3986,"d":"r"},{"t":290,"o":0.3996,"c":0.3887,"h":0.4015,"l":0.3881,"d":"r"},{"t":294,"o":0.3881,"c":0.3919,"h":0.3938,"l":0.3872,"d":"g"},{"t":297,"o":0.3900,"c":0.3962,"h":0.3990,"l":0.3896,"d":"g"},{"t":301,"o":0.3962,"c":0.3927,"h":0.3984,"l":0.3923,"d":"r"},{"t":304,"o":0.3927,"c":0.3962,"h":0.3973,"l":0.3923,"d":"g"},{"t":308,"o":0.3962,"c":0.3896,"h":0.3977,"l":0.3891,"d":"r"},{"t":314,"o":0.3896,"c":0.3843,"h":0.3904,"l":0.3839,"d":"r"},{"t":318,"o":0.3843,"c":0.3805,"h":0.3851,"l":0.3795,"d":"r"},{"t":323,"o":0.3805,"c":0.3748,"h":0.3815,"l":0.3733,"d":"r"},{"t":327,"o":0.3754,"c":0.3805,"h":0.3815,"l":0.3725,"d":"g"},{"t":331,"o":0.3799,"c":0.3862,"h":0.3881,"l":0.3786,"d":"g"},{"t":336,"o":0.3896,"c":0.3866,"h":0.3913,"l":0.3843,"d":"r"},{"t":341,"o":0.3866,"c":0.3877,"h":0.3904,"l":0.3847,"d":"g"},{"t":347,"o":0.3866,"c":0.3885,"h":0.3892,"l":0.3858,"d":"g"},{"t":352,"o":0.3872,"c":0.3885,"h":0.3910,"l":0.3862,"d":"g"},{"t":358,"o":0.3885,"c":0.3866,"h":0.3891,"l":0.3858,"d":"r"},{"t":364,"o":0.3866,"c":0.3795,"h":0.3881,"l":0.3790,"d":"r"},{"t":372,"o":0.3795,"c":0.3856,"h":0.3862,"l":0.3790,"d":"g"},{"t":378,"o":0.3856,"c":0.3843,"h":0.3866,"l":0.3834,"d":"r"},{"t":384,"o":0.3834,"c":0.3872,"h":0.3896,"l":0.3828,"d":"g"},{"t":392,"o":0.3881,"c":0.3862,"h":0.3887,"l":0.3847,"d":"r"},{"t":398,"o":0.3862,"c":0.3877,"h":0.3929,"l":0.3856,"d":"g"},{"t":405,"o":0.3877,"c":0.3908,"h":0.3919,"l":0.3872,"d":"g"},{"t":410,"o":0.3891,"c":0.3913,"h":0.3929,"l":0.3885,"d":"g"},{"t":415,"o":0.3913,"c":0.3967,"h":0.3984,"l":0.3904,"d":"g"},{"t":419,"o":0.3967,"c":0.3915,"h":0.3973,"l":0.3910,"d":"r"},{"t":423,"o":0.3929,"c":0.3872,"h":0.3938,"l":0.3853,"d":"r"},{"t":426,"o":0.3868,"c":0.3877,"h":0.3885,"l":0.3862,"d":"g"},{"t":431,"o":0.3877,"c":0.3868,"h":0.3887,"l":0.3847,"d":"r"},{"t":435,"o":0.3872,"c":0.3799,"h":0.3881,"l":0.3776,"d":"r"},{"t":440,"o":0.3805,"c":0.3776,"h":0.3815,"l":0.3744,"d":"r"},{"t":444,"o":0.3773,"c":0.3815,"h":0.3853,"l":0.3767,"d":"g"},{"t":449,"o":0.3818,"c":0.3756,"h":0.3847,"l":0.3744,"d":"r"},{"t":454,"o":0.3756,"c":0.3818,"h":0.3843,"l":0.3748,"d":"g"},{"t":460,"o":0.3820,"c":0.3799,"h":0.3828,"l":0.3790,"d":"r"},{"t":464,"o":0.3799,"c":0.3729,"h":0.3809,"l":0.3725,"d":"r"},{"t":468,"o":0.3735,"c":0.3529,"h":0.3744,"l":0.3523,"d":"r"},{"t":472,"o":0.3529,"c":0.3510,"h":0.3538,"l":0.3390,"d":"r"},{"t":477,"o":0.3510,"c":0.3504,"h":0.3513,"l":0.3491,"d":"r"},{"t":480,"o":0.3510,"c":0.3576,"h":0.3595,"l":0.3504,"d":"g"},{"t":483,"o":0.3576,"c":0.3557,"h":0.3580,"l":0.3553,"d":"r"},{"t":487,"o":0.3557,"c":0.3623,"h":0.3668,"l":0.3548,"d":"g"},{"t":491,"o":0.3623,"c":0.3627,"h":0.3643,"l":0.3614,"d":"g"},{"t":495,"o":0.3629,"c":0.3651,"h":0.3653,"l":0.3608,"d":"g"},{"t":499,"o":0.3651,"c":0.3629,"h":0.3695,"l":0.3608,"d":"r"},{"t":503,"o":0.3623,"c":0.3685,"h":0.3699,"l":0.3614,"d":"g"},{"t":510,"o":0.3676,"c":0.3657,"h":0.3691,"l":0.3643,"d":"r"},{"t":515,"o":0.3662,"c":0.3649,"h":0.3672,"l":0.3643,"d":"r"},{"t":520,"o":0.3649,"c":0.3666,"h":0.3676,"l":0.3610,"d":"g"},{"t":524,"o":0.3662,"c":0.3672,"h":0.3682,"l":0.3657,"d":"g"},{"t":527,"o":0.3672,"c":0.3748,"h":0.3795,"l":0.3662,"d":"g"},{"t":531,"o":0.3744,"c":0.3729,"h":0.3763,"l":0.3720,"d":"r"},{"t":535,"o":0.3733,"c":0.3676,"h":0.3757,"l":0.3662,"d":"r"},{"t":539,"o":0.3676,"c":0.3691,"h":0.3720,"l":0.3666,"d":"g"},{"t":542,"o":0.3687,"c":0.3664,"h":0.3706,"l":0.3643,"d":"r"},{"t":546,"o":0.3662,"c":0.3676,"h":0.3729,"l":0.3614,"d":"g"},{"t":551,"o":0.3687,"c":0.3629,"h":0.3720,"l":0.3623,"d":"r"},{"t":555,"o":0.3637,"c":0.3666,"h":0.3682,"l":0.3620,"d":"g"},{"t":560,"o":0.3666,"c":0.3647,"h":0.3720,"l":0.3639,"d":"r"},{"t":564,"o":0.3649,"c":0.3676,"h":0.3695,"l":0.3637,"d":"g"},{"t":568,"o":0.3657,"c":0.3672,"h":0.3695,"l":0.3649,"d":"g"},{"t":575,"o":0.3668,"c":0.3678,"h":0.3716,"l":0.3657,"d":"g"},{"t":580,"o":0.3676,"c":0.3653,"h":0.3687,"l":0.3647,"d":"r"},{"t":586,"o":0.3653,"c":0.3668,"h":0.3714,"l":0.3643,"d":"g"},{"t":589,"o":0.3668,"c":0.3697,"h":0.3714,"l":0.3662,"d":"g"},{"t":592,"o":0.3697,"c":0.3672,"h":0.3706,"l":0.3666,"d":"r"},{"t":595,"o":0.3672,"c":0.3599,"h":0.3682,"l":0.3595,"d":"r"},{"t":599,"o":0.3599,"c":0.3576,"h":0.3610,"l":0.3563,"d":"r"},{"t":602,"o":0.3566,"c":0.3595,"h":0.3610,"l":0.3557,"d":"g"},{"t":605,"o":0.3591,"c":0.3557,"h":0.3599,"l":0.3551,"d":"r"},{"t":610,"o":0.3566,"c":0.3513,"h":0.3576,"l":0.3468,"d":"r"},{"t":613,"o":0.3515,"c":0.3566,"h":0.3591,"l":0.3496,"d":"g"},{"t":618,"o":0.3553,"c":0.3566,"h":0.3578,"l":0.3538,"d":"g"},{"t":625,"o":0.3557,"c":0.3580,"h":0.3591,"l":0.3529,"d":"g"},{"t":630,"o":0.3576,"c":0.3590,"h":0.3595,"l":0.3566,"d":"g"},{"t":635,"o":0.3586,"c":0.3653,"h":0.3668,"l":0.3576,"d":"g"},{"t":640,"o":0.3643,"c":0.3653,"h":0.3666,"l":0.3637,"d":"g"},{"t":645,"o":0.3639,"c":0.3676,"h":0.3687,"l":0.3633,"d":"g"},{"t":650,"o":0.3676,"c":0.3623,"h":0.3704,"l":0.3618,"d":"r"},{"t":656,"o":0.3623,"c":0.3666,"h":0.3682,"l":0.3610,"d":"g"},{"t":661,"o":0.3666,"c":0.3643,"h":0.3687,"l":0.3637,"d":"r"},{"t":665,"o":0.3662,"c":0.3623,"h":0.3672,"l":0.3618,"d":"r"},{"t":669,"o":0.3633,"c":0.3614,"h":0.3643,"l":0.3608,"d":"r"},{"t":675,"o":0.3620,"c":0.3551,"h":0.3629,"l":0.3538,"d":"r"},{"t":680,"o":0.3557,"c":0.3570,"h":0.3585,"l":0.3548,"d":"g"},{"t":686,"o":0.3566,"c":0.3551,"h":0.3576,"l":0.3542,"d":"r"},{"t":692,"o":0.3534,"c":0.3561,"h":0.3572,"l":0.3515,"d":"g"},{"t":698,"o":0.3557,"c":0.3599,"h":0.3635,"l":0.3548,"d":"g"},{"t":703,"o":0.3599,"c":0.3534,"h":0.3605,"l":0.3529,"d":"r"},{"t":708,"o":0.3538,"c":0.3557,"h":0.3566,"l":0.3532,"d":"g"},{"t":713,"o":0.3557,"c":0.3551,"h":0.3566,"l":0.3529,"d":"r"},{"t":718,"o":0.3538,"c":0.3570,"h":0.3580,"l":0.3527,"d":"g"},{"t":727,"o":0.3566,"c":0.3599,"h":0.3605,"l":0.3557,"d":"g"},{"t":733,"o":0.3591,"c":0.3563,"h":0.3605,"l":0.3553,"d":"r"},{"t":737,"o":0.3566,"c":0.3548,"h":0.3576,"l":0.3538,"d":"r"},{"t":742,"o":0.3548,"c":0.3529,"h":0.3557,"l":0.3500,"d":"r"},{"t":747,"o":0.3532,"c":0.3570,"h":0.3580,"l":0.3523,"d":"g"},{"t":753,"o":0.3570,"c":0.3548,"h":0.3580,"l":0.3538,"d":"r"},{"t":760,"o":0.3544,"c":0.3532,"h":0.3553,"l":0.3519,"d":"r"},{"t":765,"o":0.3542,"c":0.3500,"h":0.3548,"l":0.3496,"d":"r"},{"t":770,"o":0.3500,"c":0.3481,"h":0.3510,"l":0.3466,"d":"r"},{"t":773,"o":0.3481,"c":0.3496,"h":0.3515,"l":0.3468,"d":"g"},{"t":779,"o":0.3510,"c":0.3481,"h":0.3519,"l":0.3477,"d":"r"},{"t":783,"o":0.3510,"c":0.3475,"h":0.3519,"l":0.3472,"d":"r"},{"t":787,"o":0.3475,"c":0.3491,"h":0.3510,"l":0.3470,"d":"g"},{"t":794,"o":0.3487,"c":0.3500,"h":0.3510,"l":0.3477,"d":"g"},{"t":798,"o":0.3500,"c":0.3529,"h":0.3538,"l":0.3494,"d":"g"},{"t":802,"o":0.3529,"c":0.3561,"h":0.3576,"l":0.3523,"d":"g"},{"t":807,"o":0.3557,"c":0.3544,"h":0.3570,"l":0.3538,"d":"r"},{"t":812,"o":0.3548,"c":0.3538,"h":0.3566,"l":0.3532,"d":"r"},{"t":818,"o":0.3538,"c":0.3576,"h":0.3585,"l":0.3532,"d":"g"},{"t":822,"o":0.3576,"c":0.3629,"h":0.3653,"l":0.3570,"d":"g"},{"t":826,"o":0.3629,"c":0.3591,"h":0.3674,"l":0.3585,"d":"r"},{"t":830,"o":0.3599,"c":0.3529,"h":0.3674,"l":0.3523,"d":"r"},{"t":835,"o":0.3529,"c":0.3548,"h":0.3557,"l":0.3504,"d":"g"},{"t":839,"o":0.3548,"c":0.3591,"h":0.3599,"l":0.3538,"d":"g"},{"t":844,"o":0.3591,"c":0.3610,"h":0.3618,"l":0.3582,"d":"g"},{"t":848,"o":0.3608,"c":0.3595,"h":0.3614,"l":0.3585,"d":"r"},{"t":852,"o":0.3591,"c":0.3599,"h":0.3610,"l":0.3572,"d":"g"},{"t":857,"o":0.3599,"c":0.3639,"h":0.3653,"l":0.3591,"d":"g"},{"t":861,"o":0.3639,"c":0.3599,"h":0.3672,"l":0.3595,"d":"r"},{"t":866,"o":0.3599,"c":0.3566,"h":0.3605,"l":0.3548,"d":"r"},{"t":871,"o":0.3548,"c":0.3576,"h":0.3585,"l":0.3542,"d":"g"},{"t":875,"o":0.3570,"c":0.3551,"h":0.3595,"l":0.3534,"d":"r"},{"t":881,"o":0.3551,"c":0.3566,"h":0.3582,"l":0.3544,"d":"g"},{"t":886,"o":0.3586,"c":0.3566,"h":0.3591,"l":0.3557,"d":"r"},{"t":890,"o":0.3566,"c":0.3586,"h":0.3595,"l":0.3561,"d":"g"},{"t":895,"o":0.3590,"c":0.3584,"h":0.3595,"l":0.3566,"d":"r"},{"t":899,"o":0.3582,"c":0.3595,"h":0.3601,"l":0.3576,"d":"g"},{"t":907,"o":0.3590,"c":0.3610,"h":0.3618,"l":0.3582,"d":"g"},{"t":913,"o":0.3620,"c":0.3580,"h":0.3633,"l":0.3574,"d":"r"},{"t":917,"o":0.3580,"c":0.3566,"h":0.3588,"l":0.3544,"d":"r"},{"t":923,"o":0.3566,"c":0.3576,"h":0.3584,"l":0.3561,"d":"g"},{"t":931,"o":0.3580,"c":0.3504,"h":0.3585,"l":0.3481,"d":"r"},{"t":936,"o":0.3504,"c":0.3529,"h":0.3538,"l":0.3491,"d":"g"},{"t":940,"o":0.3529,"c":0.3548,"h":0.3580,"l":0.3519,"d":"g"},{"t":945,"o":0.3542,"c":0.3561,"h":0.3572,"l":0.3534,"d":"g"},{"t":949,"o":0.3551,"c":0.3566,"h":0.3576,"l":0.3544,"d":"g"}
]},
"layer":[
{"data":{"name":"cells"},"transform":[{"lookup":"b","from":{"data":{"name":"bands"},"key":"b","fields":["y","y2"]}}],"mark":{"type":"rect","strokeWidth":0.6},
"encoding":{"x":{"field":"x","type":"quantitative","scale":{"domain":[32,966],"nice":false,"zero":false},"axis":null},"x2":{"field":"e"},
"y":{"field":"y","type":"quantitative","title":null,"scale":{"domain":[0.3014,0.5063],"nice":false,"zero":false},"axis":{"orient":"right","values":[0.485,0.449,0.412,0.376,0.339,0.303],"format":".3f","title":null,"domain":false,"ticks":false,"grid":false,"labelColor":"#ffffff","labelFont":"Roboto","labelFontSize":26,"labelFontWeight":500,"labelPadding":8,"labelOverlap":false,"labelBound":false,"labelFlush":false,"zindex":1}},"y2":{"field":"y2"},
"color":{"field":"v","type":"quantitative","legend":null,"scale":{"domain":[0,1,2,3,4,5,6,7,8,9,10],"range":["#3b0f5c","#3a2565","#36396f","#315b7d","#2b7586","#268a86","#279c80","#35ad70","#5cb95c","#9cc33c","#d4cb16"]}},
"stroke":{"field":"v","type":"quantitative","legend":null,"scale":{"domain":[0,1,2,3,4,5,6,7,8,9,10],"range":["#3b0f5c","#3a2565","#36396f","#315b7d","#2b7586","#268a86","#279c80","#35ad70","#5cb95c","#9cc33c","#d4cb16"]}}}},
{"data":{"name":"candles"},"mark":{"type":"rule","strokeWidth":1.5,"opacity":0.65},
"encoding":{"x":{"field":"t","type":"quantitative","scale":{"domain":[32,966],"nice":false,"zero":false},"axis":null},"y":{"field":"h","type":"quantitative","title":null,"scale":{"domain":[0.3014,0.5063],"nice":false,"zero":false}},"y2":{"field":"l"},
"color":{"field":"d","type":"nominal","legend":null,"scale":{"domain":["g","r"],"range":["#10c48a","#dd4a50"]}}}},
{"data":{"name":"candles"},"mark":{"type":"rule","strokeWidth":5.5},
"encoding":{"x":{"field":"t","type":"quantitative","scale":{"domain":[32,966],"nice":false,"zero":false},"axis":null},"y":{"field":"o","type":"quantitative","title":null,"scale":{"domain":[0.3014,0.5063],"nice":false,"zero":false}},"y2":{"field":"c"},
"color":{"field":"d","type":"nominal","legend":null,"scale":{"domain":["g","r"],"range":["#10c48a","#dd4a50"]}}}},
{"data":{"values":[{"x":938,"y":0.3056}]},"mark":{"type":"point","filled":true,"color":"#ffffff","opacity":0.85,"size":784,"shape":"M0,-0.25L0.25,0L0,0.25L-0.25,0ZM-1,0L-0.8,-0.2L-0.6,0L-0.8,0.2ZM1,0L0.8,-0.2L0.6,0L0.8,0.2ZM0,-1L0.6,-0.4L0.36,-0.16L0,-0.52L-0.36,-0.16L-0.6,-0.4ZM0,1L0.6,0.4L0.36,0.16L0,0.52L-0.36,0.16L-0.6,0.4Z"},
"encoding":{"x":{"field":"x","type":"quantitative","scale":{"domain":[32,966],"nice":false,"zero":false},"axis":null},"y":{"field":"y","type":"quantitative","title":null,"scale":{"domain":[0.3014,0.5063],"nice":false,"zero":false}}}},
{"data":{"values":[{"x":958,"y":0.3056,"t":"@李山101"}]},"mark":{"type":"text","align":"left","baseline":"middle","font":"Noto Sans CJK SC","fontSize":24,"color":"#ffffff","opacity":0.65},
"encoding":{"x":{"field":"x","type":"quantitative","scale":{"domain":[32,966],"nice":false,"zero":false},"axis":null},"y":{"field":"y","type":"quantitative","title":null,"scale":{"domain":[0.3014,0.5063],"nice":false,"zero":false}},"text":{"field":"t"}}}
]}
